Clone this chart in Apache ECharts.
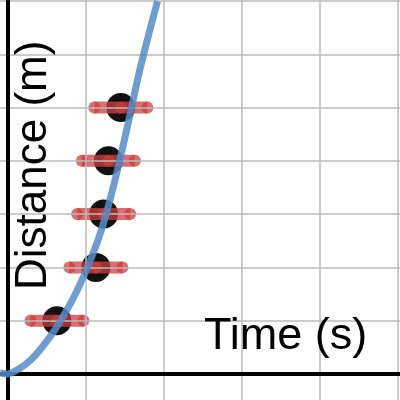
<!DOCTYPE html>
<html>
<head>
<meta charset="utf-8">
<script src="https://cdn.jsdelivr.net/npm/echarts@6/dist/echarts.min.js"></script>
<style>html,body{margin:0;padding:0;background:#fff}#main{width:400px;height:400px}</style>
</head>
<body>
<div id="main"></div>
<script>
// measured points (time, distance) and horizontal error
var timeVals = [0.63, 1.13, 1.23, 1.29, 1.45];
var distVals = [1, 2, 3, 4, 5];
var timeErr = 0.34;
// fitted curve
var curveX = [-0.1, 0, 0.15, 0.3, 0.45, 0.6, 0.75, 0.9, 1.05, 1.2, 1.36, 1.52, 1.7, 1.92];
var curveY = [0.02, 0, 0.1, 0.27, 0.52, 0.82, 1.18, 1.6, 2.1, 2.7, 3.55, 4.55, 5.75, 7.0];
var gridX = [1, 2, 3, 4, 5];
var gridY = [1, 2, 3, 4, 5, 6, 7];

var series = [];

// grid lines and axes
var gl = [];
for (var i = 0; i < gridX.length; i++) gl.push({xAxis: gridX[i]});
for (var j = 0; j < gridY.length; j++) gl.push({yAxis: gridY[j]});
series.push({
	type: 'line', data: [], silent: true, z: 1,
	markLine: {
		symbol: 'none', label: {show: false},
		lineStyle: {color: '#bbb', width: 1.5, type: 'solid'},
		data: gl
	}
});
series.push({
	type: 'line', data: [], silent: true, z: 1,
	markLine: {
		symbol: 'none', label: {show: false},
		lineStyle: {color: '#000', width: 4, type: 'solid'},
		data: [{xAxis: 0}, {yAxis: 0}]
	}
});

// black points
var pts = [];
for (var k = 0; k < timeVals.length; k++) pts.push([timeVals[k], distVals[k]]);
series.push({
	type: 'scatter', data: pts, symbolSize: 29, z: 3,
	itemStyle: {color: '#111', opacity: 1}
});

// red error bars
for (var m = 0; m < timeVals.length; m++) {
	series.push({
		type: 'line', z: 4,
		data: [[timeVals[m] - timeErr, distVals[m]], [timeVals[m], distVals[m]], [timeVals[m] + timeErr, distVals[m]]],
		symbol: 'circle', symbolSize: 12,
		lineStyle: {color: 'rgba(205,60,60,0.75)', width: 12},
		itemStyle: {color: 'rgba(205,60,60,0.75)'}
	});
}

// blue curve
var cd = [];
for (var n = 0; n < curveX.length; n++) cd.push([curveX[n], curveY[n]]);
series.push({
	type: 'line', data: cd, smooth: 0.3, showSymbol: false, z: 5,
	lineStyle: {color: 'rgba(85,140,200,0.85)', width: 7}
});

var myChart = echarts.init(document.getElementById('main'));
myChart.setOption({
	animation: false,
	grid: {left: 0, right: 0, top: 0, bottom: 0},
	xAxis: {type: 'value', min: -0.1, max: 5.03, show: false},
	yAxis: {type: 'value', min: -0.49, max: 7.02, show: false},
	graphic: [
		{type: 'text', left: 204, top: 314, z: 100,
			style: {text: 'Time (s)', font: '45px "Liberation Sans", Arial', fill: '#000'}},
		{type: 'text', x: 12, y: 290, rotation: Math.PI / 2, z: 100,
			style: {text: 'Distance (m)', font: '44px "Liberation Sans", Arial', fill: '#000'}}
	],
	series: series
});
</script>
</body>
</html>
